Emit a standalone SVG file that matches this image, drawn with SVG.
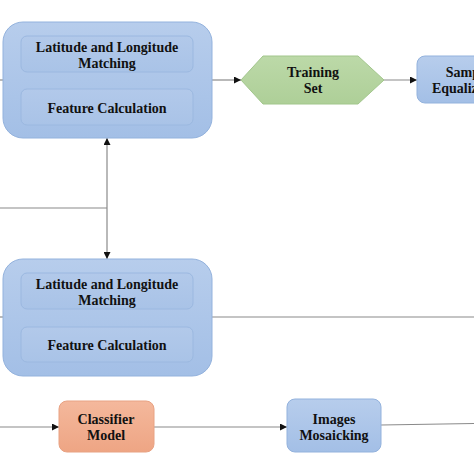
<svg xmlns="http://www.w3.org/2000/svg" width="474" height="474" viewBox="0 0 474 474">
<defs>
<linearGradient id="gBlue" x1="0" y1="0" x2="0" y2="1"><stop offset="0" stop-color="#b7cdec"/><stop offset="1" stop-color="#a3bfe6"/></linearGradient>
<linearGradient id="gInner" x1="0" y1="0" x2="0" y2="1"><stop offset="0" stop-color="#b2c9ea"/><stop offset="1" stop-color="#a9c3e7"/></linearGradient>
<linearGradient id="gOrange" x1="0" y1="0" x2="0" y2="1"><stop offset="0" stop-color="#f4b89c"/><stop offset="1" stop-color="#eea584"/></linearGradient>
<linearGradient id="gGreen" x1="0" y1="0" x2="0" y2="1"><stop offset="0" stop-color="#bcd9a8"/><stop offset="1" stop-color="#aecf98"/></linearGradient>
<marker id="arr" viewBox="0 0 10 10" refX="10" refY="5" markerWidth="7" markerHeight="7" markerUnits="userSpaceOnUse" orient="auto"><path d="M0,0 L10,5 L0,10 z" fill="#111"/></marker>
</defs>
<style>
.big{fill:url(#gBlue);stroke:#93b2dd;stroke-width:1}
.inner{fill:url(#gInner);stroke:#9bb8e0;stroke-width:1}
.t{font-family:"Liberation Serif","Times New Roman",serif;font-weight:bold;font-size:14px;fill:#111;text-anchor:middle}
.ln{stroke:#8a8a8a;stroke-width:1.2;fill:none}
</style>
<rect width="474" height="474" fill="#fff"/>
<g id="connectors">
<line class="ln" x1="0" y1="80" x2="3" y2="80"/>
<line class="ln" x1="212" y1="80" x2="241" y2="80" marker-end="url(#arr)"/>
<line class="ln" x1="384" y1="80" x2="417" y2="80" marker-end="url(#arr)"/>
<line class="ln" x1="107" y1="208" x2="107" y2="138" marker-end="url(#arr)"/>
<line class="ln" x1="107" y1="208" x2="107" y2="259" marker-end="url(#arr)"/>
<line class="ln" x1="0" y1="208" x2="107" y2="208"/>
<line class="ln" x1="0" y1="317" x2="3" y2="317"/>
<line class="ln" x1="212" y1="317" x2="474" y2="317"/>
<line class="ln" x1="0" y1="427" x2="59" y2="427" marker-end="url(#arr)"/>
<line class="ln" x1="154" y1="427" x2="287" y2="427" marker-end="url(#arr)"/>
<line class="ln" x1="381" y1="425" x2="474" y2="423.5"/>
</g>
<g id="top-processing">
<rect class="big" x="3" y="22" width="209" height="116" rx="20"/>
<rect class="inner" x="21" y="36" width="172" height="36" rx="6"/>
<rect class="inner" x="21" y="89" width="172" height="36" rx="6"/>
<text class="t" x="107" y="52">Latitude and Longitude</text>
<text class="t" x="107" y="68">Matching</text>
<text class="t" x="107" y="113">Feature Calculation</text>
</g>
<g id="training-set">
<polygon points="241,80 263,56 358,56 384,80 358,104 263,104" fill="url(#gGreen)" stroke="#a2c68c" stroke-width="1"/>
<text class="t" x="313" y="77">Training</text>
<text class="t" x="313" y="93">Set</text>
</g>
<g id="sample-equalization">
<rect class="big" x="417" y="56" width="110" height="47" rx="8"/>
<text class="t" x="468" y="77">Sample</text>
<text class="t" x="470" y="93">Equalization</text>
</g>
<g id="bottom-processing">
<rect class="big" x="3" y="259" width="209" height="117" rx="20"/>
<rect class="inner" x="21" y="273" width="172" height="36" rx="6"/>
<rect class="inner" x="21" y="327" width="172" height="35" rx="6"/>
<text class="t" x="107" y="289">Latitude and Longitude</text>
<text class="t" x="107" y="305">Matching</text>
<text class="t" x="107" y="350">Feature Calculation</text>
</g>
<g id="classifier-model">
<rect x="59" y="401" width="95" height="51" rx="8" fill="url(#gOrange)" stroke="#e8a283" stroke-width="1"/>
<text class="t" x="106" y="424">Classifier</text>
<text class="t" x="106" y="440">Model</text>
</g>
<g id="images-mosaicking">
<rect class="big" x="287" y="399" width="94" height="53" rx="8"/>
<text class="t" x="334" y="424">Images</text>
<text class="t" x="334" y="440">Mosaicking</text>
</g>
</svg>
